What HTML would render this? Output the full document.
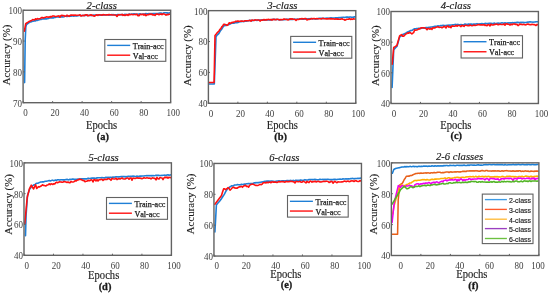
<!DOCTYPE html>
<html><head><meta charset="utf-8"><title>Accuracy curves</title>
<style>
html,body{margin:0;padding:0;background:#fff;}
body{width:550px;height:293px;overflow:hidden;}
svg{display:block;filter:blur(0.3px);}
text{font-family:"Liberation Serif", "Times New Roman", serif;stroke-linejoin:round;font-kerning:none;}
.tk{font-size:9px;fill:#404040;}
.tt{font-size:10.7px;font-style:italic;fill:#1a1a1a;stroke:#1a1a1a;stroke-width:0.15px;}
.xl{font-size:10.6px;fill:#1a1a1a;stroke:#1a1a1a;stroke-width:0.12px;}
.yl{font-size:9.6px;fill:#1a1a1a;stroke:#1a1a1a;stroke-width:0.1px;}
.sl{font-size:10.4px;font-weight:bold;fill:#1a1a1a;stroke:#1a1a1a;stroke-width:0.3px;}
.lg{font-size:8.1px;fill:#1a1a1a;stroke:#1a1a1a;stroke-width:0.25px;}
.lgs{font-family:"Liberation Sans", Arial, sans-serif;font-size:7px;fill:#1a1a1a;stroke:#1a1a1a;stroke-width:0.15px;}
</style></head><body>
<svg width="550" height="293" viewBox="0 0 550 293"><rect x="0" y="0" width="550" height="293" fill="#ffffff"/><clipPath id="clipa"><rect x="23.1" y="10.25" width="147.55" height="92.45"/></clipPath><g clip-path="url(#clipa)" fill="none" stroke-linejoin="round" stroke-linecap="round"><path d="M24.6 82.6 L25.2 40 L25.8 27 L26.5 24.5 L27.5 23.77 L28.5 23.03 L29.5 22.3 L30.52 21.98 L31.55 21.65 L32.58 21.32 L33.6 21.1 L34.59 20.73 L35.57 20.89 L36.56 20.36 L37.54 20.39 L38.53 19.92 L39.51 19.78 L40.5 19.36 L41.49 19.33 L42.48 18.99 L43.47 18.87 L44.46 18.86 L45.45 18.76 L46.45 18.9 L47.44 18.59 L48.43 18.46 L49.42 18 L50.41 17.7 L51.4 18.03 L52.36 17.91 L53.31 17.88 L54.27 17.52 L55.22 17.44 L56.18 17.04 L57.13 16.97 L58.09 17.04 L59.04 17.12 L60 16.66 L61 16.89 L62 16.92 L63 16.92 L64 16.65 L65 16.31 L66 16.25 L67 16.59 L68 16.3 L69 16.13 L70 16.09 L71 16.23 L72 16.06 L73 15.91 L74 16.12 L75 15.68 L76 15.9 L77 15.99 L78 15.68 L79 15.44 L80 15.45 L81 15.5 L82 15.59 L83 15.5 L84 15.41 L85 15.25 L86 15.54 L87 15.09 L88 15.42 L89 15.53 L90 15.26 L91 15.44 L92 15.39 L93 15.4 L94 14.99 L95 15.17 L96 15.07 L97 15.01 L98 14.79 L99 15.03 L100 15.21 L101 15.1 L102 14.75 L103 15.1 L104 15.07 L105 14.91 L106 14.93 L107 14.79 L108 14.77 L109 15.16 L110 14.73 L111 14.84 L112 14.6 L113 14.7 L114 14.65 L115 14.96 L116 14.77 L117 14.94 L118 14.42 L119 14.79 L120 14.45 L121 14.73 L122 14.41 L123 14.64 L124 14.78 L125 14.33 L126 14.49 L127 14.54 L128 14.68 L129 14.1 L130 14.17 L131 14.29 L132 14.05 L133 13.98 L134 13.89 L135 14.09 L136 13.99 L137 14.24 L138 14.2 L139 13.93 L140 13.82 L141 14.23 L142 14.21 L143 14.07 L144 14.03 L145 13.89 L146 13.63 L147 13.72 L148 13.81 L149 13.65 L150 13.79 L151 13.52 L152 13.69 L153 13.47 L154 13.45 L155 13.58 L156 13.47 L157 13.61 L158 13.54 L159 13.28 L160 13.06 L161 12.93 L162 13.45 L163 13.16 L164 12.81 L165 12.74 L166 12.78 L167 12.87 L168 13.11 L169 12.93 L170 12.8" stroke="#1f7fd6" stroke-width="1.6"/><path d="M24.4 31.2 L25.7 23.7 L26.77 23 L27.83 22.3 L28.9 21.6 L29.84 21.2 L30.78 20.8 L31.72 20.4 L32.66 19.65 L33.6 19.81 L34.59 19.84 L35.57 18.76 L36.56 19.44 L37.54 18.6 L38.53 18.91 L39.51 18.69 L40.5 18.48 L41.49 17.67 L42.48 17.64 L43.47 17.92 L44.46 17.52 L45.45 17.33 L46.45 16.85 L47.44 17.05 L48.43 17.14 L49.42 17.03 L50.41 16.61 L51.4 16.85 L52.36 16.03 L53.31 15.92 L54.27 16.12 L55.22 16.51 L56.18 16.45 L57.13 16.19 L58.09 15.93 L59.04 15.88 L60 17.17 L61 15.48 L62 15.24 L63 15.82 L64 15.61 L65 16.34 L66 15.98 L67 15.26 L68 15.82 L69 16.37 L70 15.53 L71 15.06 L72 15.17 L73 14.99 L74 15.49 L75 15.05 L76 15.35 L77 15.2 L78 15.24 L79 15.06 L80 14.84 L81 16.11 L82 15.62 L83 15.19 L84 15.8 L85 15.07 L86 14.75 L87 14.84 L88 15.89 L89 15.39 L90 15.27 L91 14.71 L92 15.57 L93 15.41 L94 16.18 L95 15.88 L96 15.12 L97 14.87 L98 15.48 L99 14.71 L100 14.82 L101 14.95 L102 15.29 L103 14.63 L104 14.75 L105 14.9 L106 14.97 L107 14.7 L108 15.04 L109 14.57 L110 14.82 L111 14.7 L112 14.97 L113 14.93 L114 15.07 L115 15 L116 15.21 L117 16.48 L118 14.77 L119 14.9 L120 14.81 L121 14.67 L122 14.4 L123 15.37 L124 14.8 L125 15.52 L126 15.1 L127 14.58 L128 15.39 L129 14.23 L130 14.87 L131 14.38 L132 14.54 L133 14.72 L134 14.57 L135 14.57 L136 14.67 L137 14.15 L138 15.71 L139 15.8 L140 14.53 L141 14.29 L142 14.66 L143 14.08 L144 15.22 L145 14.18 L146 15.69 L147 14.83 L148 14.5 L149 14.65 L150 14.02 L151 14.42 L152 14.06 L153 15.06 L154 14.7 L155 15.38 L156 14.14 L157 14.03 L158 14.28 L159 14.7 L160 14.15 L161 13.92 L162 14.73 L163 13.91 L164 13.97 L165 14.38 L166 15.22 L167 14.51 L168 14.65 L169 14.33 L170 14.2" stroke="#ff1010" stroke-width="1.6"/></g><rect x="23.1" y="10.25" width="147.55" height="92.45" fill="none" stroke="#626262" stroke-width="1.4"/><path d="M23.1 102.7 v-1.6 M52.61 102.7 v-1.6 M82.12 102.7 v-1.6 M111.63 102.7 v-1.6 M141.14 102.7 v-1.6 M170.65 102.7 v-1.6 M23.1 102.7 h1.6 M23.1 71.88 h1.6 M23.1 41.07 h1.6 M23.1 10.25 h1.6" stroke="#626262" stroke-width="1" fill="none"/><text transform="translate(25.6 115.7) scale(1 1.09)" text-anchor="middle" class="tk">0</text><text transform="translate(55.11 115.7) scale(1 1.09)" text-anchor="middle" class="tk">20</text><text transform="translate(84.62 115.7) scale(1 1.09)" text-anchor="middle" class="tk">40</text><text transform="translate(114.13 115.7) scale(1 1.09)" text-anchor="middle" class="tk">60</text><text transform="translate(143.64 115.7) scale(1 1.09)" text-anchor="middle" class="tk">80</text><text transform="translate(173.15 115.7) scale(1 1.09)" text-anchor="middle" class="tk">100</text><text transform="translate(22.1 106.6) scale(1 1.09)" text-anchor="end" class="tk">70</text><text transform="translate(22.1 75.78) scale(1 1.09)" text-anchor="end" class="tk">80</text><text transform="translate(22.1 44.97) scale(1 1.09)" text-anchor="end" class="tk">90</text><text transform="translate(22.1 14.15) scale(1 1.09)" text-anchor="end" class="tk">100</text><text transform="translate(101.7 8.6) scale(1 1.05)" text-anchor="middle" class="tt">2-class</text><text transform="translate(101.6 129.2) scale(1 1.08)" text-anchor="middle" class="xl">Epochs</text><text x="102.8" y="140.1" text-anchor="middle" class="sl">(a)</text><text transform="translate(10.2 55) scale(1 1.135) rotate(-90)" text-anchor="middle" class="yl">Accuracy (%)</text><rect x="104.8" y="39.5" width="61" height="21.8" fill="#fff" stroke="#626262" stroke-width="1.1"/><path d="M107.2 45.39 H130.2" stroke="#1f7fd6" stroke-width="1.4"/><text x="132.7" y="49.09" class="lg">Train-acc</text><path d="M107.2 55.2 H130.2" stroke="#ff1010" stroke-width="1.4"/><text x="132.7" y="58.9" class="lg">Val-acc</text><clipPath id="clipb"><rect x="208.4" y="10.65" width="147.4" height="92.65"/></clipPath><g clip-path="url(#clipb)" fill="none" stroke-linejoin="round" stroke-linecap="round"><path d="M208.6 84 L209.55 84 L210.5 84 L211.45 84 L212.4 84 L213.35 84 L214.3 84 L215.2 60 L216 36.7 L217 35.28 L218 34.31 L219 33.36 L219.92 31.71 L220.84 30.13 L221.76 29.1 L222.68 27.67 L223.6 26.04 L224.66 25.72 L225.71 25.52 L226.77 24.74 L227.83 24.83 L228.89 24.48 L229.94 24.21 L231 23.48 L232 23.12 L233 23.12 L234 23.18 L235 22.84 L236 22.57 L237 22.62 L238 22.45 L239 21.91 L240 21.55 L241 21.8 L242 21.3 L243 21.47 L244 21.6 L245 21.05 L246 21.19 L247 21.15 L248 20.67 L249 20.74 L250 20.35 L251 20.59 L252 20.65 L253 20.46 L254 20.15 L255 20.23 L256 20.2 L257 20.42 L258 20.1 L259 19.99 L260 19.99 L261 20.11 L262 20.31 L263 19.73 L264 20.15 L265 20.19 L266 19.84 L267 19.83 L268 19.98 L269 19.67 L270 19.95 L271 19.94 L272 19.49 L273 19.37 L274 19.45 L275 19.36 L276 19.45 L277 19.45 L278 19.45 L279 19.6 L280 19.85 L281 19.71 L282 19.77 L283 19.78 L284 19.79 L285 19.39 L286 19.4 L287 19.31 L288 19.17 L289 19.37 L290 19.13 L291 19.35 L292 19.34 L293 19.36 L294 19.25 L295 19.15 L296 19.52 L297 19.23 L298 19.16 L299 19.27 L300 18.89 L301 18.96 L302 19.11 L303 19.23 L304 19.18 L305 18.8 L306 19.29 L307 18.85 L308 18.99 L309 18.63 L310 19.09 L311 18.59 L312 18.99 L313 18.68 L314 18.7 L315 18.97 L316 18.81 L317 18.85 L318 18.73 L319 18.29 L320 18.32 L321 18.26 L322 18.69 L323 18.37 L324 18.51 L325 18.27 L326 18.21 L327 18.1 L328 18.33 L329 18.3 L330 17.95 L331 17.73 L332 18.16 L333 17.99 L334 18.03 L335 17.88 L336 17.67 L337 17.81 L338 17.9 L339 17.48 L340 17.73 L340.97 17.4 L341.94 17.43 L342.91 17.22 L343.88 17.33 L344.84 17.53 L345.81 17.12 L346.78 17.16 L347.75 17.07 L348.72 17.47 L349.69 17.07 L350.66 16.95 L351.62 17.37 L352.59 17.3 L353.56 17.16 L354.53 16.7 L355.5 16.9" stroke="#1f7fd6" stroke-width="1.6"/><path d="M208.6 82.5 L209.52 82.5 L210.43 82.5 L211.35 82.5 L212.27 82.5 L213.18 82.5 L214.1 82.5 L215 35.5 L216.03 34.3 L217.07 32.91 L218.1 31.9 L219.02 30.93 L219.93 29.34 L220.85 28.66 L221.77 26.79 L222.68 26.22 L223.6 24.4 L224.66 24.34 L225.71 24.65 L226.77 25.41 L227.83 25.02 L228.89 23.11 L229.94 22.89 L231 23.28 L232 22.26 L233 22.49 L234 21.95 L235 21.76 L236 21.14 L237 21.54 L238 20.89 L239 21.42 L240 21.2 L241 21.07 L242 21.08 L243 21.31 L244 21.21 L245 20.82 L246 20.73 L247 20.73 L248 20.72 L249 20.61 L250 20.29 L251 21.16 L252 19.93 L253 20.31 L254 20.48 L255 19.79 L256 19.95 L257 20.07 L258 19.99 L259 19.96 L260 21.06 L261 20.11 L262 20.08 L263 20.19 L264 19.47 L265 20.12 L266 19.6 L267 19.85 L268 19.4 L269 19.54 L270 19.83 L271 19.41 L272 20.16 L273 19.42 L274 19.34 L275 19.62 L276 19.75 L277 19.17 L278 19.33 L279 19.88 L280 19.73 L281 19.39 L282 19.7 L283 19.57 L284 18.92 L285 19.3 L286 19.47 L287 19.42 L288 19.91 L289 19.6 L290 18.85 L291 19.29 L292 18.84 L293 19.28 L294 19.27 L295 19.49 L296 20.31 L297 19.34 L298 19.43 L299 19.35 L300 18.72 L301 19.04 L302 18.56 L303 18.89 L304 18.69 L305 18.57 L306 18.66 L307 19.96 L308 19.31 L309 19.39 L310 19.32 L311 18.79 L312 18.57 L313 18.9 L314 18.38 L315 18.9 L316 18.69 L317 18.52 L318 18.83 L319 18.69 L320 18.68 L321 18.91 L322 18.43 L323 18.34 L324 18.76 L325 18.76 L326 18.86 L327 18.73 L328 19.02 L329 18.42 L330 18.94 L331 18.64 L332 18.91 L333 18.89 L334 19.03 L335 19.18 L336 18.72 L337 19.17 L338 18.88 L339 19.25 L340 19.29 L340.97 19.14 L341.94 18.66 L342.91 19.24 L343.88 19.42 L344.84 20.18 L345.81 19.72 L346.78 19.3 L347.75 19.19 L348.72 19.17 L349.69 18.73 L350.66 19.48 L351.62 19.04 L352.59 19.34 L353.56 18.83 L354.53 19.08 L355.5 19.2" stroke="#ff1010" stroke-width="1.6"/></g><rect x="208.4" y="10.65" width="147.4" height="92.65" fill="none" stroke="#626262" stroke-width="1.4"/><path d="M208.4 103.3 v-1.6 M237.88 103.3 v-1.6 M267.36 103.3 v-1.6 M296.84 103.3 v-1.6 M326.32 103.3 v-1.6 M355.8 103.3 v-1.6 M208.4 103.3 h1.6 M208.4 72.42 h1.6 M208.4 41.53 h1.6 M208.4 10.65 h1.6" stroke="#626262" stroke-width="1" fill="none"/><text transform="translate(210.9 116.6) scale(1 1.09)" text-anchor="middle" class="tk">0</text><text transform="translate(240.38 116.6) scale(1 1.09)" text-anchor="middle" class="tk">20</text><text transform="translate(269.86 116.6) scale(1 1.09)" text-anchor="middle" class="tk">40</text><text transform="translate(299.34 116.6) scale(1 1.09)" text-anchor="middle" class="tk">60</text><text transform="translate(328.82 116.6) scale(1 1.09)" text-anchor="middle" class="tk">80</text><text transform="translate(358.3 116.6) scale(1 1.09)" text-anchor="middle" class="tk">100</text><text transform="translate(207.4 107.2) scale(1 1.09)" text-anchor="end" class="tk">40</text><text transform="translate(207.4 76.32) scale(1 1.09)" text-anchor="end" class="tk">60</text><text transform="translate(207.4 45.43) scale(1 1.09)" text-anchor="end" class="tk">80</text><text transform="translate(207.4 14.55) scale(1 1.09)" text-anchor="end" class="tk">100</text><text transform="translate(282.3 8.6) scale(1 1.05)" text-anchor="middle" class="tt">3-class</text><text transform="translate(282.3 129.2) scale(1 1.08)" text-anchor="middle" class="xl">Epochs</text><text x="280.6" y="139.7" text-anchor="middle" class="sl">(b)</text><text transform="translate(191.1 55.7) scale(1 1.135) rotate(-90)" text-anchor="middle" class="yl">Accuracy (%)</text><rect x="290.7" y="36.4" width="61.1" height="21.8" fill="#fff" stroke="#626262" stroke-width="1.1"/><path d="M293.1 42.29 H316.1" stroke="#1f7fd6" stroke-width="1.4"/><text x="318.6" y="45.99" class="lg">Train-acc</text><path d="M293.1 52.1 H316.1" stroke="#ff1010" stroke-width="1.4"/><text x="318.6" y="55.8" class="lg">Val-acc</text><clipPath id="clipc"><rect x="391" y="11.5" width="147.4" height="92"/></clipPath><g clip-path="url(#clipc)" fill="none" stroke-linejoin="round" stroke-linecap="round"><path d="M392.1 87.4 L392.9 68.5 L393.7 49.6 L394.77 48.57 L395.83 47.53 L396.9 46.5 L397.8 43.43 L398.7 40.37 L399.6 37.3 L400.62 36.26 L401.65 35.53 L402.68 34.46 L403.7 34.13 L404.72 33.58 L405.73 33.23 L406.75 32.43 L407.77 31.86 L408.78 31.63 L409.8 31.05 L410.76 30.52 L411.72 30.47 L412.68 29.93 L413.64 29.21 L414.6 28.85 L415.62 28.73 L416.63 28.6 L417.65 28.57 L418.67 28.4 L419.68 28.27 L420.7 28.41 L421.74 28.11 L422.79 27.85 L423.83 28.31 L424.87 27.97 L425.91 27.59 L426.96 27.48 L428 27.71 L429 27.27 L430 27.24 L431 27.05 L432 26.99 L433 26.88 L434 26.52 L435 26.27 L436 26.41 L437 26.25 L438 25.86 L439 25.99 L440 25.79 L441 25.44 L442 25.73 L443 25.34 L444 25.64 L445 25.54 L446 25.43 L447 25.35 L448 25.42 L449 25.02 L450 25.23 L451 25.05 L452 25.05 L453 24.69 L454 24.86 L455 24.45 L456 24.41 L457 24.66 L458 24.38 L459 24.77 L460 24.79 L461 24.52 L462 24.76 L463 24.73 L464 24.55 L465 24.08 L466 24.26 L467 24.5 L468 24.13 L469 24.06 L470 24.5 L471 23.93 L472 24.39 L473 24.21 L474 23.9 L475 24.16 L476 23.99 L477 23.67 L478 24.09 L479 23.93 L480 23.89 L481 23.88 L482 23.61 L483 23.98 L484 23.91 L485 23.37 L486 23.64 L487 23.57 L488 23.47 L489 23.41 L490 23.34 L491 23.31 L492 23.47 L493 23.53 L494 23.14 L495 23.34 L496 23.45 L497 23.41 L498 23.08 L499 23.31 L500 23.4 L501 23.06 L502 22.9 L503 23.03 L504 23.24 L505 22.8 L506 23.3 L507 23.15 L508 22.87 L509 23.08 L510 22.7 L511 22.89 L512 22.83 L513 22.63 L514 23.02 L515 22.49 L516 22.74 L517 22.33 L518 22.3 L519 22.64 L520 22.5 L521 22.36 L522 22.6 L523 22.31 L524 22.65 L525 22.48 L526 22.45 L527 22.29 L528 22.14 L529 22.07 L530 21.82 L531 22.07 L532 22.07 L533 22.21 L534 22.06 L535 22.02 L536 21.72 L537 21.81 L538 21.8" stroke="#1f7fd6" stroke-width="1.6"/><path d="M392.2 64.2 L392.95 55.85 L393.7 47.5 L394.77 46.83 L395.83 46.17 L396.9 45.5 L397.8 42.3 L398.7 39.1 L399.6 35.9 L400.6 35.28 L401.6 34.59 L402.65 36.28 L403.7 36.13 L404.7 35.08 L405.7 34.06 L406.73 33.82 L407.75 32.72 L408.77 33.24 L409.8 32.24 L410.85 33.13 L411.9 33.93 L412.8 33.2 L413.7 32.62 L414.6 29.88 L415.6 30.31 L416.6 29.92 L417.62 29.78 L418.65 28.81 L419.68 29.04 L420.7 28.07 L421.77 27.83 L422.85 27.82 L423.93 27.72 L425 27.97 L426 28.59 L427 29.77 L428 28.36 L429 28.63 L430 29.29 L431 28.23 L432 29.37 L433 27.69 L434 28.06 L435 27.87 L436 27.19 L437 26.99 L438 26.75 L439 27.42 L440 27.23 L441 27.2 L442 27.68 L443 27.17 L444 26.29 L445 26.75 L446 27.99 L447 26.28 L448 25.88 L449 27.14 L450 26.59 L451 27.66 L452 25.75 L453 26.25 L454 26.19 L455 26.18 L456 25.27 L457 26.28 L458 25.44 L459 25.52 L460 25.79 L461 26.57 L462 25.32 L463 25.79 L464 26.35 L465 25.22 L466 25.32 L467 25.43 L468 25.82 L469 25.8 L470 24.93 L471 25.52 L472 25.7 L473 25.5 L474 24.97 L475 25.48 L476 25.28 L477 25.03 L478 24.67 L479 24.61 L480 24.97 L481 24.75 L482 24.89 L483 25.09 L484 24.54 L485 25.52 L486 25.07 L487 25.7 L488 24.65 L489 24.72 L490 25.98 L491 24.14 L492 24.98 L493 24.86 L494 24.63 L495 24.38 L496 24.19 L497 24.16 L498 24.77 L499 24.6 L500 24.12 L501 24.52 L502 24.56 L503 24.57 L504 23.93 L505 25.14 L506 23.84 L507 23.9 L508 24.31 L509 24.26 L510 25.04 L511 24.14 L512 24.72 L513 24.02 L514 24 L515 24.09 L516 24.59 L517 24.39 L518 25.54 L519 24.82 L520 23.94 L521 24.4 L522 24.58 L523 24.52 L524 24.37 L525 24.87 L526 24.81 L527 24.35 L528 24.05 L529 24.53 L530 24.62 L531 24.7 L532 24.33 L533 24.57 L534 24.62 L535 24.84 L536 25.54 L537 24.41 L538 24.7" stroke="#ff1010" stroke-width="1.6"/></g><rect x="391" y="11.5" width="147.4" height="92" fill="none" stroke="#626262" stroke-width="1.4"/><path d="M391 103.5 v-1.6 M420.48 103.5 v-1.6 M449.96 103.5 v-1.6 M479.44 103.5 v-1.6 M508.92 103.5 v-1.6 M538.4 103.5 v-1.6 M391 103.5 h1.6 M391 72.83 h1.6 M391 42.17 h1.6 M391 11.5 h1.6" stroke="#626262" stroke-width="1" fill="none"/><text transform="translate(394 117.1) scale(1 1.09)" text-anchor="middle" class="tk">0</text><text transform="translate(423.48 117.1) scale(1 1.09)" text-anchor="middle" class="tk">20</text><text transform="translate(452.96 117.1) scale(1 1.09)" text-anchor="middle" class="tk">40</text><text transform="translate(482.44 117.1) scale(1 1.09)" text-anchor="middle" class="tk">60</text><text transform="translate(511.92 117.1) scale(1 1.09)" text-anchor="middle" class="tk">80</text><text transform="translate(541.4 117.1) scale(1 1.09)" text-anchor="middle" class="tk">100</text><text transform="translate(390 107.4) scale(1 1.09)" text-anchor="end" class="tk">40</text><text transform="translate(390 76.73) scale(1 1.09)" text-anchor="end" class="tk">60</text><text transform="translate(390 46.07) scale(1 1.09)" text-anchor="end" class="tk">80</text><text transform="translate(390 15.4) scale(1 1.09)" text-anchor="end" class="tk">100</text><text transform="translate(455.8 9.4) scale(1 1.05)" text-anchor="middle" class="tt">4-class</text><text transform="translate(455.9 129.4) scale(1 1.08)" text-anchor="middle" class="xl">Epochs</text><text x="456.3" y="139.3" text-anchor="middle" class="sl">(c)</text><text transform="translate(378.8 55.7) scale(1 1.135) rotate(-90)" text-anchor="middle" class="yl">Accuracy (%)</text><rect x="461.1" y="35.7" width="61.4" height="22.3" fill="#fff" stroke="#626262" stroke-width="1.1"/><path d="M463.5 41.72 H486.5" stroke="#1f7fd6" stroke-width="1.4"/><text x="489" y="45.42" class="lg">Train-acc</text><path d="M463.5 51.76 H486.5" stroke="#ff1010" stroke-width="1.4"/><text x="489" y="55.46" class="lg">Val-acc</text><clipPath id="clipd"><rect x="24" y="162.85" width="147.4" height="92.45"/></clipPath><g clip-path="url(#clipd)" fill="none" stroke-linejoin="round" stroke-linecap="round"><path d="M25.5 235.7 L26.1 215 L27.5 195.5 L28.5 192.4 L29.5 189.3 L30.4 188.17 L31.3 187.03 L32.2 185.9 L33.16 185.36 L34.12 184.81 L35.08 184.47 L36.04 183.54 L37 183.2 L37.92 183.22 L38.83 182.82 L39.75 182.38 L40.67 181.99 L41.58 182.04 L42.5 181.87 L43.47 181.88 L44.44 181.54 L45.41 181.3 L46.39 181.26 L47.36 180.99 L48.33 180.81 L49.3 180.49 L50.32 180.9 L51.35 180.59 L52.38 180.14 L53.4 180.61 L54.42 180.55 L55.45 180.07 L56.48 180.34 L57.5 179.7 L58.62 179.72 L59.75 180.08 L60.88 179.76 L62 179.75 L63 179.88 L64 179.78 L65 179.83 L66 179.66 L67 179.29 L68 179.83 L69 179.78 L70 179.2 L71 179.56 L72 179.12 L73 179.1 L74 179.38 L75 179.22 L76 179.23 L77 179.38 L78 179.03 L79 179.12 L80 178.93 L81 178.68 L82 178.7 L83 178.89 L84 178.91 L85 178.81 L86 178.87 L87 178.85 L88 178.27 L89 178.41 L90 178.48 L91 178.17 L92 178.03 L93 178.09 L94 178.04 L95 178.38 L96 178.22 L97 177.87 L98 177.77 L99 177.75 L100 177.81 L101 177.78 L102 177.63 L103 177.75 L104 177.86 L105 177.81 L106 177.28 L107 177.72 L108 177.24 L109 177.58 L110 177.34 L111 177.32 L112 177.45 L113 176.94 L114 177.31 L115 176.98 L116 176.74 L117 176.7 L118 177.06 L119 176.85 L120 176.71 L121 176.67 L122 176.65 L123 176.61 L124 176.42 L125 176.85 L126 176.63 L127 176.84 L128 176.32 L129 176.3 L130 176.56 L131 176.12 L132 176.64 L133 176.06 L134 176.24 L135 176.39 L136 176.46 L137 176.12 L138 176.44 L139 176.28 L140 176.15 L141 176.12 L142 176.04 L143 176.07 L144 175.95 L145 175.83 L146 175.7 L147 175.59 L148 175.79 L149 175.62 L150 175.75 L151 175.6 L152 175.87 L153 175.49 L154 175.7 L155 175.55 L156 175.23 L157 175.35 L158 175.18 L159 175.39 L160 175.45 L161 175.46 L162 175.42 L163 175.26 L164 175.28 L165 175.17 L166 175.37 L167 175.07 L168 174.75 L169 175.24 L170 174.94 L171 174.9" stroke="#1f7fd6" stroke-width="1.6"/><path d="M24.8 223.4 L26 210.45 L27.2 197.5 L28.35 193.05 L29.5 188.6 L30.4 186.9 L31.3 185.2 L32.45 187.25 L33.6 188.95 L34.6 186.61 L35.6 184.73 L36.7 188.5 L37.7 187.36 L38.7 186.64 L39.7 186.96 L40.63 186.23 L41.57 185.72 L42.5 184.72 L43.4 185.41 L44.3 185.49 L45.2 185.84 L46.23 185.78 L47.25 184.92 L48.27 184.69 L49.3 183.77 L50.2 184.66 L51.1 183.83 L52 183.94 L52.92 184.44 L53.83 183.76 L54.75 183.92 L55.67 182.81 L56.58 182.31 L57.5 182.76 L58.62 182.22 L59.75 181.8 L60.88 181.94 L62 182.12 L63 182.19 L64 181.5 L65 181.73 L66 182.1 L67 182.49 L68 181.94 L69 182.64 L70 182.8 L71 181.4 L72 182.05 L73 182 L74 181.71 L75 180.77 L76 181.04 L77 180.11 L78 180.01 L79 179.38 L80 179.11 L81 179.6 L82 180.01 L83 180.52 L84 180.66 L85 181.7 L86 181.31 L87 181.25 L88 180.39 L89 180.62 L90 180.63 L91 179.9 L92 180 L93 181.95 L94 179.63 L95 179.85 L96 180.92 L97 179.62 L98 181.03 L99 179.81 L100 179.63 L101 179.41 L102 179.3 L103 180.39 L104 179.6 L105 179.19 L106 179.34 L107 179.55 L108 178.56 L109 178.7 L110 179.21 L111 180.28 L112 178.33 L113 178.78 L114 178.93 L115 179.02 L116 178.15 L117 179.58 L118 179.02 L119 178.57 L120 179.11 L121 178.42 L122 178.01 L123 178.74 L124 179.02 L125 179.05 L126 178.46 L127 177.94 L128 178.02 L129 179.26 L130 178.13 L131 177.93 L132 180.2 L133 178.02 L134 178.26 L135 178.57 L136 178.17 L137 177.85 L138 178.12 L139 178.15 L140 177.94 L141 178.4 L142 178.62 L143 178.28 L144 177.7 L145 177.99 L146 178.18 L147 177.59 L148 178.13 L149 178.32 L150 177.99 L151 178.85 L152 178.05 L153 177.83 L154 178.37 L155 178.39 L156 179.94 L157 177.42 L158 178.77 L159 178.99 L160 177.58 L161 177.81 L162 177.94 L163 179.55 L164 177.91 L165 177.12 L166 177.76 L167 177.07 L168 178.1 L169 177.2 L170 177.63 L171 177.5" stroke="#ff1010" stroke-width="1.6"/></g><rect x="24" y="162.85" width="147.4" height="92.45" fill="none" stroke="#626262" stroke-width="1.4"/><path d="M24 255.3 v-1.6 M53.48 255.3 v-1.6 M82.96 255.3 v-1.6 M112.44 255.3 v-1.6 M141.92 255.3 v-1.6 M171.4 255.3 v-1.6 M24 255.3 h1.6 M24 224.48 h1.6 M24 193.67 h1.6 M24 162.85 h1.6" stroke="#626262" stroke-width="1" fill="none"/><text transform="translate(26.7 268.6) scale(1 1.09)" text-anchor="middle" class="tk">0</text><text transform="translate(56.18 268.6) scale(1 1.09)" text-anchor="middle" class="tk">20</text><text transform="translate(85.66 268.6) scale(1 1.09)" text-anchor="middle" class="tk">40</text><text transform="translate(115.14 268.6) scale(1 1.09)" text-anchor="middle" class="tk">60</text><text transform="translate(144.62 268.6) scale(1 1.09)" text-anchor="middle" class="tk">80</text><text transform="translate(174.1 268.6) scale(1 1.09)" text-anchor="middle" class="tk">100</text><text transform="translate(23 259.2) scale(1 1.09)" text-anchor="end" class="tk">40</text><text transform="translate(23 228.38) scale(1 1.09)" text-anchor="end" class="tk">60</text><text transform="translate(23 197.57) scale(1 1.09)" text-anchor="end" class="tk">80</text><text transform="translate(23 166.75) scale(1 1.09)" text-anchor="end" class="tk">100</text><text transform="translate(103.6 160.6) scale(1 1.05)" text-anchor="middle" class="tt">5-class</text><text transform="translate(103.7 278.6) scale(1 1.08)" text-anchor="middle" class="xl">Epochs</text><text x="105" y="289.8" text-anchor="middle" class="sl">(d)</text><text transform="translate(12.1 204.5) scale(1 1.135) rotate(-90)" text-anchor="middle" class="yl">Accuracy (%)</text><rect x="106.5" y="197.5" width="61" height="21.8" fill="#fff" stroke="#626262" stroke-width="1.1"/><path d="M108.9 203.39 H131.9" stroke="#1f7fd6" stroke-width="1.4"/><text x="134.4" y="207.09" class="lg">Train-acc</text><path d="M108.9 213.2 H131.9" stroke="#ff1010" stroke-width="1.4"/><text x="134.4" y="216.9" class="lg">Val-acc</text><clipPath id="clipe"><rect x="213.95" y="163.45" width="147.5" height="92.6"/></clipPath><g clip-path="url(#clipe)" fill="none" stroke-linejoin="round" stroke-linecap="round"><path d="M214.9 231.9 L215.65 218.45 L216.4 205 L217.5 203.6 L218.63 202.27 L219.77 200.93 L220.9 199.6 L222.03 197.77 L223.17 196 L224.3 194.38 L225.43 192.23 L226.57 190.15 L227.7 188.64 L228.72 188.07 L229.75 187.02 L230.78 186.37 L231.8 185.74 L232.76 185.95 L233.72 185.62 L234.68 184.95 L235.64 184.96 L236.6 184.84 L237.57 184.64 L238.54 184.69 L239.51 184.83 L240.49 184.79 L241.46 184.28 L242.43 184.55 L243.4 184.47 L244.36 183.96 L245.31 184.16 L246.27 183.78 L247.22 183.68 L248.18 183.63 L249.13 183.67 L250.09 183.5 L251.04 183.51 L252 183.64 L253 183.46 L254 182.89 L255 182.91 L256 182.62 L257 182.78 L258 182.51 L259 182.64 L260 182.2 L261 182.15 L262 181.92 L263 182.01 L264 181.51 L265 181.22 L266 181.34 L267 181.09 L268 181.13 L269 181.1 L270 181.19 L271 181.03 L272 181.01 L273 181.18 L274 181.4 L275 181.47 L276 181.18 L277 181.01 L278 180.95 L279 180.84 L280 181 L281 181.26 L282 180.77 L283 180.88 L284 180.7 L285 181.05 L286 180.7 L287 180.54 L288 180.5 L289 180.75 L290 180.46 L291 180.41 L292 180.88 L293 180.37 L294 180.75 L295 180.59 L296 180.17 L297 180.56 L298 180.32 L299 180.59 L300 180.11 L301 180.11 L302 180.42 L303 180.25 L304 180.1 L305 179.65 L306 179.96 L307 179.93 L308 180 L309 179.51 L310 179.44 L311 179.45 L312 179.58 L313 179.64 L314 179.48 L315 179.3 L316 179.66 L317 179.81 L318 179.75 L319 179.61 L320 179.26 L321 179.57 L322 179.49 L323 179.34 L324 179.69 L325 179.24 L326 179.7 L327 179.31 L328 179.23 L329 179.55 L330 179.65 L331 179.67 L332 179.57 L333 179.6 L334 179.4 L335 179.19 L336 179.58 L337 179.56 L338 179.27 L339 179.18 L340 179.13 L341 179.28 L342 179.21 L343 178.77 L344 178.93 L345 179.07 L346 178.79 L347 179.08 L348 178.87 L349 178.92 L350 178.75 L351 178.59 L352 178.45 L353 178.41 L354 178.86 L355 178.56 L356 178.47 L357 178.54 L358 178.18 L359 178.57 L360 178.13 L361 178.3" stroke="#1f7fd6" stroke-width="1.6"/><path d="M214.9 204.2 L215.84 202.96 L216.79 201.71 L217.73 200.47 L218.67 199.23 L219.61 197.99 L220.56 196.74 L221.5 195.5 L222.55 192.05 L223.6 188.91 L224.6 188.86 L225.6 189.67 L226.85 188.72 L228.1 187.52 L229.05 188.53 L230 190.21 L231.25 188.99 L232.5 187.59 L233.63 187.28 L234.77 187.99 L235.9 188.08 L236.98 188.26 L238.06 187.53 L239.14 186.89 L240.22 186.89 L241.3 186.2 L242.43 187.3 L243.57 185.95 L244.7 185.63 L245.63 185.28 L246.57 186.41 L247.5 186.19 L248.62 187.18 L249.75 185.1 L250.88 184.5 L252 184.14 L253 184.23 L254 184.58 L255 185.19 L256 185.36 L257 185.51 L258 185.34 L259 184.92 L260 184.34 L261 184.66 L262 184.19 L263 182.91 L264 182.78 L265 182.51 L266 182.99 L267 182.12 L268 182.7 L269 182.21 L270 182.02 L271 182.75 L272 181.73 L273 182.09 L274 182.17 L275 182.07 L276 182.15 L277 182.49 L278 182.07 L279 181.45 L280 182.01 L281 181.6 L282 181.73 L283 181.39 L284 181.92 L285 182.1 L286 181.24 L287 181.79 L288 181.44 L289 181.75 L290 181.26 L291 181.48 L292 181.35 L293 181.71 L294 181.9 L295 182.97 L296 181.36 L297 181.44 L298 181.71 L299 181.77 L300 181.34 L301 182.18 L302 182.3 L303 181.28 L304 181.58 L305 182.13 L306 182.94 L307 181.26 L308 182.03 L309 182.63 L310 181.06 L311 181.21 L312 182.16 L313 181.45 L314 181.71 L315 181.11 L316 181.9 L317 181.64 L318 181.21 L319 181.42 L320 181.91 L321 181.95 L322 181.76 L323 181.58 L324 181.41 L325 181.56 L326 181.18 L327 181.33 L328 181.5 L329 182.39 L330 182.13 L331 181.28 L332 181.5 L333 183.2 L334 181.98 L335 181.25 L336 182.07 L337 182.71 L338 181.77 L339 182.01 L340 182.01 L341 182.05 L342 181.86 L343 181.71 L344 181.33 L345 181.07 L346 181.65 L347 181.24 L348 181.05 L349 181.6 L350 181.47 L351 180.84 L352 180.97 L353 180.81 L354 181.47 L355 180.86 L356 180.59 L357 181.22 L358 181.49 L359 181.37 L360 180.62 L361 180.9" stroke="#ff1010" stroke-width="1.6"/></g><rect x="213.95" y="163.45" width="147.5" height="92.6" fill="none" stroke="#626262" stroke-width="1.4"/><path d="M213.95 256.05 v-1.6 M243.45 256.05 v-1.6 M272.95 256.05 v-1.6 M302.45 256.05 v-1.6 M331.95 256.05 v-1.6 M361.45 256.05 v-1.6 M213.95 256.05 h1.6 M213.95 225.18 h1.6 M213.95 194.32 h1.6 M213.95 163.45 h1.6" stroke="#626262" stroke-width="1" fill="none"/><text transform="translate(216.65 268.6) scale(1 1.09)" text-anchor="middle" class="tk">0</text><text transform="translate(246.15 268.6) scale(1 1.09)" text-anchor="middle" class="tk">20</text><text transform="translate(275.65 268.6) scale(1 1.09)" text-anchor="middle" class="tk">40</text><text transform="translate(305.15 268.6) scale(1 1.09)" text-anchor="middle" class="tk">60</text><text transform="translate(334.65 268.6) scale(1 1.09)" text-anchor="middle" class="tk">80</text><text transform="translate(364.15 268.6) scale(1 1.09)" text-anchor="middle" class="tk">100</text><text transform="translate(212.95 259.95) scale(1 1.09)" text-anchor="end" class="tk">40</text><text transform="translate(212.95 229.08) scale(1 1.09)" text-anchor="end" class="tk">60</text><text transform="translate(212.95 198.22) scale(1 1.09)" text-anchor="end" class="tk">80</text><text transform="translate(212.95 167.35) scale(1 1.09)" text-anchor="end" class="tk">100</text><text transform="translate(284.3 161) scale(1 1.05)" text-anchor="middle" class="tt">6-class</text><text transform="translate(285.8 277.6) scale(1 1.08)" text-anchor="middle" class="xl">Epochs</text><text x="286.5" y="287.8" text-anchor="middle" class="sl">(e)</text><text transform="translate(193.8 203.9) scale(1 1.135) rotate(-90)" text-anchor="middle" class="yl">Accuracy (%)</text><rect x="287.5" y="195.5" width="60.7" height="21.6" fill="#fff" stroke="#626262" stroke-width="1.1"/><path d="M289.9 201.33 H312.9" stroke="#1f7fd6" stroke-width="1.4"/><text x="315.4" y="205.03" class="lg">Train-acc</text><path d="M289.9 211.05 H312.9" stroke="#ff1010" stroke-width="1.4"/><text x="315.4" y="214.75" class="lg">Val-acc</text><clipPath id="clipf"><rect x="391.35" y="162.85" width="147.55" height="92.65"/></clipPath><g clip-path="url(#clipf)" fill="none" stroke-linejoin="round" stroke-linecap="round"><path d="M392.4 173.3 L393.8 169.5 L394.65 169 L395.5 168.5 L396.63 168.27 L397.77 168.03 L398.9 167.8 L399.92 167.63 L400.93 167.29 L401.95 167.02 L402.97 167.02 L403.98 167.01 L405 166.55 L405.92 166.92 L406.83 166.54 L407.75 166.83 L408.67 166.72 L409.58 166.41 L410.5 166.38 L411.44 166.67 L412.38 166.55 L413.31 166.22 L414.25 166.62 L415.19 166.46 L416.12 166.42 L417.06 166.7 L418 166.62 L419 166.08 L420 166.63 L421 166.32 L422 166.38 L423 166.14 L424 165.92 L425 166.25 L426 166.12 L427 166.23 L428 166.39 L429 166 L430 166.19 L431 166.28 L432 165.81 L433 166.03 L434 166.23 L435 165.73 L436 166.06 L437 166.11 L438 165.79 L439 166.1 L440 165.71 L441 166.07 L442 165.79 L443 165.97 L444 165.46 L445 165.72 L446 165.46 L447 165.41 L448 165.71 L449 165.69 L450 165.3 L451 165.59 L452 165.49 L453 165.57 L454 165.34 L455 165.77 L456 165.47 L457 165.17 L458 165.21 L459 165.5 L460 165.33 L461 165.48 L462 165.21 L463 165.39 L464 165.06 L465 165.44 L466 165.4 L467 165.51 L468 165.01 L469 165.44 L470 165.01 L471 164.99 L472 165.04 L473 165.28 L474 165.03 L475 165.33 L476 165.27 L477 165.05 L478 164.89 L479 164.89 L480 165.24 L481 165.1 L482 165.19 L483 164.97 L484 164.68 L485 164.77 L486 164.6 L487 164.68 L488 164.69 L489 164.46 L490 164.46 L491 164.64 L492 164.82 L493 164.5 L494 164.47 L495 164.84 L496 164.81 L497 164.62 L498 164.61 L499 164.82 L500 164.63 L501 164.8 L502 164.5 L503 164.76 L504 164.93 L505 164.57 L506 164.85 L507 164.9 L508 164.82 L509 164.79 L510 164.71 L511 164.83 L512 164.81 L513 164.36 L514 164.68 L515 164.77 L516 164.49 L517 164.75 L518 164.39 L519 164.5 L520 164.7 L521 164.69 L522 164.44 L523 164.37 L524 164.82 L525 164.72 L526 164.64 L527 164.5 L528 164.61 L529 164.43 L530 164.66 L531 164.84 L532 164.43 L533 164.44 L534 164.66 L535 164.79 L536 164.72 L537 164.49 L538 164.6" stroke="#1a7fd6" stroke-width="1.55"/><path d="M392.4 234.3 L393.44 234.3 L394.48 234.3 L395.52 234.3 L396.56 234.3 L397.6 234.3 L398.2 200 L398.95 192.6 L399.7 185.2 L400.95 184.19 L402.2 183.39 L403.23 181.76 L404.25 179.5 L405.27 178.25 L406.3 176.26 L407.32 176.21 L408.35 175.94 L409.38 176.17 L410.4 175.52 L411.5 175.6 L412.6 174.97 L413.7 174.4 L414.77 173.95 L415.85 173.58 L416.93 173.47 L418 173.17 L419 173.23 L420 173.37 L421 172.89 L422 173.14 L423 173.35 L424 173 L425 172.92 L426 172.83 L427 173.14 L428 172.66 L429 173.09 L430 173.2 L431 172.85 L432 172.73 L433 172.92 L434 172.44 L435 172.62 L436 172.74 L437 172.37 L438 172.33 L439 172.21 L440 172.28 L441 172.65 L442 172.61 L443 172.48 L444 172.61 L445 172.38 L446 172.05 L447 172 L448 172.01 L449 172.49 L450 172.02 L451 171.81 L452 172.15 L453 171.96 L454 171.98 L455 171.86 L456 172.12 L457 171.7 L458 171.68 L459 171.94 L460 171.79 L461 171.86 L462 171.57 L463 171.16 L464 171.37 L465 171.37 L466 171.62 L467 170.94 L468 170.92 L469 171 L470 170.83 L471 171.08 L472 170.75 L473 171.08 L474 170.7 L475 170.99 L476 170.64 L477 171 L478 170.89 L479 171.14 L480 171.16 L481 170.75 L482 170.53 L483 170.62 L484 170.91 L485 170.9 L486 170.55 L487 170.57 L488 170.99 L489 171 L490 170.97 L491 171.01 L492 171.13 L493 170.69 L494 171.15 L495 170.68 L496 170.9 L497 171.08 L498 170.88 L499 171.03 L500 171.12 L501 171.18 L502 170.67 L503 171.12 L504 170.92 L505 170.75 L506 170.69 L507 170.62 L508 170.97 L509 171.04 L510 170.99 L511 171.11 L512 171.26 L513 170.73 L514 171.19 L515 171.06 L516 171.23 L517 170.79 L518 171.23 L519 170.74 L520 170.74 L521 171.4 L522 171.14 L523 171.23 L524 171.39 L525 170.86 L526 170.91 L527 171.18 L528 170.98 L529 171.46 L530 171.46 L531 171.05 L532 171.32 L533 171.2 L534 171.51 L535 171.08 L536 171.33 L537 170.9 L538 171.2" stroke="#e8601a" stroke-width="1.55"/><path d="M392.6 214 L393.45 209.55 L394.3 205.1 L395.34 201.38 L396.38 197.66 L397.42 193.94 L398.46 190.22 L399.5 186.5 L400.1 185.6 L401.23 185.22 L402.35 185.27 L403.48 185.43 L404.6 185.57 L405.62 185.26 L406.65 184.41 L407.68 184.14 L408.7 183.77 L409.8 182.94 L410.9 183.03 L412 182.13 L412.85 181.82 L413.7 180.93 L414.77 180.58 L415.85 180.39 L416.93 180.63 L418 180.22 L419 180.23 L420 180.28 L421 179.88 L422 179.63 L423 179.73 L424 179.61 L425 179.7 L426 179.98 L427 179.42 L428 179.79 L429 179.9 L430 180.01 L431 179.5 L432 179.17 L433 179.37 L434 179.47 L435 179 L436 179.14 L437 179.04 L438 179.04 L439 178.96 L440 178.78 L441 178.55 L442 178.47 L443 178.52 L444 178.3 L445 177.9 L446 178.53 L447 178.56 L448 177.76 L449 177.72 L450 178.21 L451 178.15 L452 178.24 L453 177.93 L454 177.78 L455 177.4 L456 177.53 L457 177.33 L458 177.21 L459 177.81 L460 177.46 L461 177.77 L462 177.2 L463 177.15 L464 177.47 L465 177.44 L466 176.77 L467 177.02 L468 176.8 L469 176.7 L470 176.51 L471 176.71 L472 176.84 L473 176.33 L474 177.01 L475 176.65 L476 176.26 L477 177.06 L478 176.84 L479 176.22 L480 176.68 L481 176.59 L482 176.4 L483 176.36 L484 177.07 L485 176.28 L486 176.79 L487 176.61 L488 176.58 L489 176.31 L490 177.05 L491 176.83 L492 176.92 L493 176.8 L494 176.98 L495 176.5 L496 176.98 L497 176.44 L498 176.99 L499 176.75 L500 176.94 L501 176.92 L502 176.32 L503 176.4 L504 176.76 L505 176.91 L506 176.96 L507 176.23 L508 176.57 L509 176.26 L510 176.24 L511 176.48 L512 176.79 L513 176.4 L514 177.05 L515 176.45 L516 176.67 L517 176.95 L518 176.82 L519 176.5 L520 176.55 L521 176.65 L522 176.32 L523 176.79 L524 176.69 L525 176.37 L526 176.11 L527 176.24 L528 176.41 L529 176.57 L530 176.97 L531 176.08 L532 176.91 L533 176.54 L534 176.86 L535 176.19 L536 176.41 L537 176.09 L538 176.5" stroke="#ffae00" stroke-width="1.55"/><path d="M392.1 222.5 L393.15 212.6 L394.2 202.7 L395.23 198.42 L396.25 194.15 L397.27 189.88 L398.3 185.6 L399.45 186.4 L400.6 187.4 L401.6 185.66 L402.6 185.41 L403.4 186.37 L404.2 186.86 L405.28 186.53 L406.36 185.88 L407.44 186.09 L408.52 185.72 L409.6 185.14 L410.67 186.01 L411.73 185.8 L412.8 186.41 L413.9 187.14 L415 184.6 L416.1 184.09 L417.08 183.68 L418.05 183.76 L419.02 184.18 L420 184.29 L421 183.7 L422 184.03 L423 183.5 L424 183.36 L425 183.65 L426 182.89 L427 183.36 L428 182.84 L429 182.59 L430 182.93 L431 184.16 L432 182.61 L433 182.71 L434 182.08 L435 182.86 L436 182.01 L437 181.89 L438 182.44 L439 183.22 L440 181.89 L441 181.56 L442 181.09 L443 181.92 L444 180.41 L445 180.31 L446 180.05 L447 180.87 L448 180.29 L449 179.94 L450 179.76 L451 179.93 L452 179.47 L453 180.1 L454 180.06 L455 179.23 L456 179.48 L457 181.38 L458 179.43 L459 180.61 L460 179.5 L461 178.9 L462 179.52 L463 180.63 L464 179.58 L465 180.46 L466 179.48 L467 179.65 L468 179.55 L469 178.65 L470 178.82 L471 179.76 L472 179.03 L473 179.3 L474 179.09 L475 179.04 L476 179 L477 179.07 L478 178.31 L479 178.73 L480 178.63 L481 179.02 L482 178.42 L483 178.74 L484 179.02 L485 179.85 L486 178.76 L487 178.58 L488 178.89 L489 180.42 L490 178.63 L491 178.6 L492 178.54 L493 178.71 L494 178.43 L495 179.24 L496 179.14 L497 179.23 L498 178.71 L499 180.02 L500 179.93 L501 178.8 L502 178.88 L503 178.39 L504 179.13 L505 178.49 L506 178.57 L507 178.51 L508 178.28 L509 178.77 L510 178.14 L511 178.57 L512 179.04 L513 180.37 L514 178.62 L515 178.59 L516 178.53 L517 179.24 L518 178.07 L519 178.35 L520 178.31 L521 178.12 L522 178.99 L523 178.36 L524 178.51 L525 178.72 L526 178.52 L527 178.13 L528 178.55 L529 178.04 L530 178.88 L531 179.07 L532 178.15 L533 178.81 L534 177.96 L535 179.77 L536 178.42 L537 178.67 L538 178.3" stroke="#f000f0" stroke-width="1.55"/><path d="M392.1 204.1 L393.13 202.38 L394.17 200.66 L395.2 198.93 L396.23 197.21 L397.27 195.49 L398.3 193.77 L399.33 192.04 L400.37 190 L401.4 188.83 L402.47 187.95 L403.53 186.91 L404.6 186.41 L405.85 187.85 L407.1 188.87 L408.07 188.45 L409.03 188.05 L410 187.01 L410.93 186.62 L411.87 187.09 L412.8 187.68 L413.9 187.24 L415 186.57 L416.1 186.34 L417.08 186.58 L418.05 186.22 L419.02 185.76 L420 186.6 L421 186.02 L422 185.89 L423 185.49 L424 185.6 L425 185.26 L426 185.9 L427 185.27 L428 185.09 L429 185.19 L430 185.66 L431 184.77 L432 185.1 L433 184.56 L434 184.41 L435 184.19 L436 184.99 L437 184.46 L438 184.61 L439 184.4 L440 184.08 L441 183.9 L442 183.57 L443 183.49 L444 183.94 L445 184.01 L446 183.81 L447 183.38 L448 183.79 L449 182.73 L450 182.75 L451 183.05 L452 183.22 L453 182.97 L454 182.54 L455 182.87 L456 182.29 L457 182.61 L458 182.58 L459 182.43 L460 182.49 L461 182.91 L462 182.38 L463 182.33 L464 182.62 L465 182.07 L466 182.46 L467 182.35 L468 182.37 L469 181.69 L470 182.12 L471 181.52 L472 181.47 L473 181.57 L474 181.63 L475 181.42 L476 181.55 L477 182.28 L478 182.26 L479 181.83 L480 181.81 L481 182.14 L482 181.57 L483 181.96 L484 182.08 L485 182.07 L486 182.19 L487 182.06 L488 182.26 L489 181.93 L490 182.25 L491 181.5 L492 182.28 L493 181.65 L494 181.42 L495 182.24 L496 182.08 L497 182.17 L498 182.12 L499 181.75 L500 182.15 L501 181.88 L502 181.27 L503 181.99 L504 181.32 L505 181.7 L506 181.72 L507 181.46 L508 181.48 L509 181.81 L510 181.61 L511 181.98 L512 181.76 L513 181.18 L514 181.88 L515 181.21 L516 180.99 L517 181.07 L518 181.84 L519 181.74 L520 181.74 L521 181.03 L522 181.66 L523 181.65 L524 180.95 L525 180.83 L526 181.38 L527 180.98 L528 181.62 L529 181.04 L530 180.87 L531 181.54 L532 180.99 L533 180.95 L534 181.04 L535 181.02 L536 181.06 L537 181.25 L538 181" stroke="#52b525" stroke-width="1.55"/></g><rect x="391.35" y="162.85" width="147.55" height="92.65" fill="none" stroke="#626262" stroke-width="1.4"/><path d="M391.35 255.5 v-1.6 M420.86 255.5 v-1.6 M450.37 255.5 v-1.6 M479.88 255.5 v-1.6 M509.39 255.5 v-1.6 M538.9 255.5 v-1.6 M391.35 255.5 h1.6 M391.35 224.62 h1.6 M391.35 193.73 h1.6 M391.35 162.85 h1.6" stroke="#626262" stroke-width="1" fill="none"/><text transform="translate(400.85 268.8) scale(1 1.09)" text-anchor="middle" class="tk">0</text><text transform="translate(430.36 268.8) scale(1 1.09)" text-anchor="middle" class="tk">20</text><text transform="translate(459.87 268.8) scale(1 1.09)" text-anchor="middle" class="tk">40</text><text transform="translate(489.38 268.8) scale(1 1.09)" text-anchor="middle" class="tk">60</text><text transform="translate(518.89 268.8) scale(1 1.09)" text-anchor="middle" class="tk">80</text><text transform="translate(538 268.8) scale(1 1.09)" text-anchor="middle" class="tk">100</text><text transform="translate(390.35 259.4) scale(1 1.09)" text-anchor="end" class="tk">40</text><text transform="translate(390.35 228.52) scale(1 1.09)" text-anchor="end" class="tk">60</text><text transform="translate(390.35 197.63) scale(1 1.09)" text-anchor="end" class="tk">80</text><text transform="translate(390.35 166.75) scale(1 1.09)" text-anchor="end" class="tk">100</text><text transform="translate(459.5 160.3) scale(1 1.05)" text-anchor="middle" class="tt">2-6 classes</text><text transform="translate(471.8 277.9) scale(1 1.08)" text-anchor="middle" class="xl">Epochs</text><text x="473.4" y="288.5" text-anchor="middle" class="sl">(f)</text><text transform="translate(377.1 204.2) scale(1 1.135) rotate(-90)" text-anchor="middle" class="yl">Accuracy (%)</text><rect x="482.3" y="194.1" width="50.7" height="49.5" fill="#fff" stroke="#626262" stroke-width="1.1"/><path d="M484.9 199.6 H506.9" stroke="#3d9be6" stroke-width="1.35"/><text transform="translate(508.9 203.1) scale(1 1.05)" class="lgs">2-class</text><path d="M484.9 209.4 H506.9" stroke="#ff5a2a" stroke-width="1.35"/><text transform="translate(508.9 212.9) scale(1 1.05)" class="lgs">3-class</text><path d="M484.9 219.2 H506.9" stroke="#ffbb3a" stroke-width="1.35"/><text transform="translate(508.9 222.7) scale(1 1.05)" class="lgs">4-class</text><path d="M484.9 228.6 H506.9" stroke="#9a3fc0" stroke-width="1.35"/><text transform="translate(508.9 232.1) scale(1 1.05)" class="lgs">5-class</text><path d="M484.9 238.5 H506.9" stroke="#6cc040" stroke-width="1.35"/><text transform="translate(508.9 242) scale(1 1.05)" class="lgs">6-class</text></svg>
</body></html>
